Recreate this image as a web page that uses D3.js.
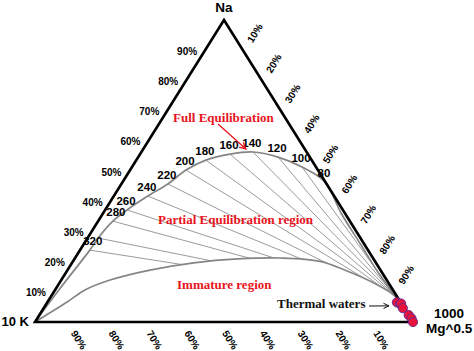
<!DOCTYPE html>
<html><head><meta charset="utf-8">
<script src="https://cdn.jsdelivr.net/npm/d3@7"></script>
<style>body{margin:0;background:#fff;} svg{display:block;}</style>
</head><body>
<svg id="c" width="474" height="351"></svg>
<script>
// ---- data (percent of Na, Mg; K = 100 - Na - Mg) ----
const pctTicks = [10,20,30,40,50,60,70,80,90];
// full equilibrium curve
const eqNa = [0, 10.6, 23.8, 27.8, 33.4, 37.1, 41.7, 45.7, 50.3, 53.6, 55.6, 56.3, 54.6, 51.3, 46.4, 36.0, 25.5, 16.0, 7.9];
const eqMg = [0, 1.0, 2.6, 2.8, 3.9, 5.8, 9.0, 12.3, 14.8, 18.4, 23.8, 29.5, 37.0, 45.0, 53.5, 63.0, 73.5, 83.0, 91.8];
// temperature tie points on full equilibrium curve
const tieT  = [320, 300, 280, 260, 240, 220, 200, 180, 160, 140, 120, 100, 80];
const tieNa = [23.8, 27.8, 33.4, 37.1, 41.7, 45.7, 50.3, 53.6, 55.6, 56.3, 54.6, 51.3, 46.4];
const tieMg = [2.6, 2.8, 3.9, 5.8, 9.0, 12.3, 14.8, 18.4, 23.8, 29.5, 37.0, 45.0, 53.5];
const tieShown = [true, false, true, true, true, true, true, true, true, true, true, true, true];
// immature curve
const imNa = [0, 6.6, 10.6, 13.9, 17.2, 19.6, 20.9, 21.2, 20.1, 16.9, 13.6, 9.9, 7.9];
const imMg = [0, 5.2, 7.9, 12.9, 21.8, 32.2, 43.2, 54.4, 65.4, 74.1, 81.8, 88.9, 91.8];
// convergence point of tie lines
const convNa = 7.9, convMg = 91.8;
// thermal waters samples
const twNa = [6.5, 6.0, 6.1, 4.6, 2.3, 1.2, 0.0];
const twMg = [92.5, 93.6, 93.8, 95.0, 97.7, 99.0, 100.0];

// ---- drawing ----
const svg = d3.select("#c");
const X = d3.scaleLinear().domain([0,1]).range([35,413]);
const Y = d3.scaleLinear().domain([0,1]).range([322,20]);
const P = (na, mg) => [X(mg/100 + na/200), Y(na/100)];
const curve = d3.line().curve(d3.curveCatmullRom.alpha(0.5));

const eqPts = eqNa.map((v,i)=>P(v, eqMg[i]));
const imPts = imNa.map((v,i)=>P(v, imMg[i]));
const conv = P(convNa, convMg);
const apex = P(100,0), kV = P(0,0), mgV = P(0,100);

// clip region above the immature curve
svg.append("defs").append("clipPath").attr("id","above")
  .append("path").attr("d", curve(imPts) + "L" + apex.join(",") + "Z");

// tie lines
svg.append("g").attr("clip-path","url(#above)")
  .selectAll("line").data(tieT).join("line")
  .attr("x1",(d,i)=>P(tieNa[i],tieMg[i])[0]).attr("y1",(d,i)=>P(tieNa[i],tieMg[i])[1])
  .attr("x2",conv[0]).attr("y2",conv[1])
  .attr("stroke","#8f8f8f").attr("stroke-width",0.9);

// curves
svg.append("path").attr("d",curve(eqPts)).attr("fill","none").attr("stroke","#858585").attr("stroke-width",1.7);
svg.append("path").attr("d",curve(imPts)).attr("fill","none").attr("stroke","#858585").attr("stroke-width",1.7);

// triangle
svg.append("path").attr("d","M"+apex.join(",")+"L"+kV.join(",")+"L"+mgV.join(",")+"Z")
  .attr("fill","none").attr("stroke","#000").attr("stroke-width",2.6).attr("stroke-linejoin","miter");

const sans = "'Liberation Sans', Arial, sans-serif";
const serif = "'Liberation Serif', 'Times New Roman', serif";

// left labels (Na)
svg.append("g").selectAll("text").data(pctTicks).join("text")
  .attr("x", d=>P(d,0)[0]-18).attr("y", d=>P(d,0)[1]+1).attr("dy","0.35em")
  .attr("text-anchor","middle").attr("font-family",sans).attr("font-weight","bold").attr("font-size",10)
  .text(d=>d+"%");
// right labels (Mg)
svg.append("g").selectAll("text").data(pctTicks).join("text")
  .attr("transform", d=>{const p=P(100-d,d); return `translate(${p[0]+12},${p[1]-17}) rotate(-58)`;})
  .attr("dy","0.35em").attr("text-anchor","middle").attr("font-family",sans).attr("font-weight","bold").attr("font-size",10)
  .text(d=>d+"%");
// bottom labels (K)
svg.append("g").selectAll("text").data(pctTicks).join("text")
  .attr("transform", d=>{const p=P(0,100-d); return `translate(${p[0]+6},${p[1]+18}) rotate(58)`;})
  .attr("dy","0.35em").attr("text-anchor","middle").attr("font-family",sans).attr("font-weight","bold").attr("font-size",10)
  .text(d=>d+"%");

// temperature labels
svg.append("g").selectAll("text").data(tieT.filter((d,i)=>tieShown[i])).join("text")
  .attr("x",d=>{const i=tieT.indexOf(d); return P(tieNa[i],tieMg[i])[0]+(d>=280?3:-1);})
  .attr("y",d=>{const i=tieT.indexOf(d); return P(tieNa[i],tieMg[i])[1]-9;})
  .attr("dy","0.35em").attr("text-anchor","middle").attr("font-family",sans).attr("font-weight","bold").attr("font-size",11.5)
  .text(d=>d);

// vertex labels
svg.append("text").attr("x",apex[0]).attr("y",apex[1]-8).attr("text-anchor","middle")
  .attr("font-family",sans).attr("font-weight","bold").attr("font-size",13.5).text("Na");
svg.append("text").attr("x",kV[0]-6).attr("y",kV[1]+4).attr("text-anchor","end")
  .attr("font-family",sans).attr("font-weight","bold").attr("font-size",13).text("10 K");
svg.append("text").attr("x",mgV[0]+36).attr("y",mgV[1]-4).attr("text-anchor","middle")
  .attr("font-family",sans).attr("font-weight","bold").attr("font-size",13.5).text("1000");
svg.append("text").attr("x",mgV[0]+13).attr("y",mgV[1]+11).attr("text-anchor","start")
  .attr("font-family",sans).attr("font-weight","bold").attr("font-size",13.5).text("Mg^0.5");

// region annotations
const red = "#e8141c";
svg.append("text").attr("x",173).attr("y",122).attr("font-family",serif).attr("font-weight","bold")
  .attr("font-size",13).attr("fill",red).text("Full Equilibration");
svg.append("text").attr("x",158).attr("y",224).attr("font-family",serif).attr("font-weight","bold")
  .attr("font-size",13).attr("fill",red).text("Partial Equilibration region");
svg.append("text").attr("x",177).attr("y",289).attr("font-family",serif).attr("font-weight","bold")
  .attr("font-size",13).attr("fill",red).text("Immature region");
svg.append("text").attr("x",277).attr("y",308).attr("font-family",serif).attr("font-weight","bold")
  .attr("font-size",13).attr("fill","#111").text("Thermal waters");

function arrow(x1,y1,x2,y2,color,w,head){
  const g = svg.append("g").attr("stroke",color).attr("fill","none").attr("stroke-width",w);
  g.append("line").attr("x1",x1).attr("y1",y1).attr("x2",x2).attr("y2",y2);
  const a = Math.atan2(y2-y1,x2-x1), s=0.45;
  const p1=[x2-head*Math.cos(a-s), y2-head*Math.sin(a-s)], p2=[x2-head*Math.cos(a+s), y2-head*Math.sin(a+s)];
  g.append("path").attr("d",`M${p1}L${x2},${y2}L${p2}`);
}
const t140 = P(tieNa[tieT.indexOf(140)], tieMg[tieT.indexOf(140)]);
arrow(218,124,t140[0]-7,t140[1]-3,red,1.3,7);
const tw0 = P(twNa[0],twMg[0]);
arrow(369,306,tw0[0]-8,tw0[1]+3.5,"#111",1,6);

// thermal waters points
svg.append("g").selectAll("circle").data(twNa).join("circle")
  .attr("cx",(d,i)=>P(d,twMg[i])[0]).attr("cy",(d,i)=>P(d,twMg[i])[1]).attr("r",4.6)
  .attr("fill","#e8143c").attr("stroke","#6a2a8e").attr("stroke-width",1);
</script>
</body></html>
